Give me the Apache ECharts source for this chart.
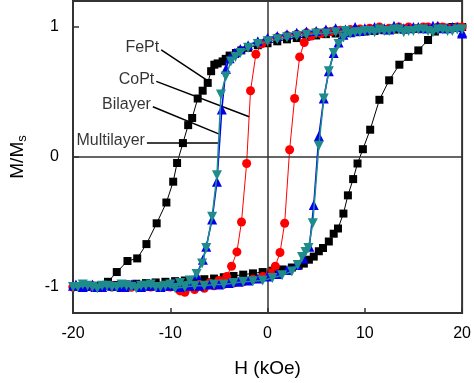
<!DOCTYPE html>
<html>
<head>
<meta charset="utf-8">
<script src="https://cdn.jsdelivr.net/npm/echarts@6/dist/echarts.min.js"></script>
<style>html,body{margin:0;padding:0;background:#fff}#c{width:474px;height:383px}</style>
</head>
<body>
<div id="c"></div>
<script>
// ---- Data (H in kOe, M/Ms) ----
const xTicks = [-20, -10, 0, 10, 20];
const yTicks = [-1, 0, 1];
const seriesNames = ['FePt', 'CoPt', 'Bilayer', 'Multilayer'];

const fePtDown = [[20,1.00],[19,1.00],[18,0.995],[17,0.99],[16,0.99],[15,0.985],[14,0.98],[13,0.98],[12,0.975],[11,0.97],[10,0.965],[9,0.96],[8,0.955],[7,0.95],[6,0.945],[5,0.935],[4,0.925],[3,0.915],[2,0.905],[1,0.89],[0,0.875],[-1,0.86],[-2,0.84],[-2.7,0.82],[-3.25,0.80],[-3.9,0.78],[-4.3,0.755],[-4.62,0.735],[-5.13,0.72],[-5.47,0.71],[-5.8,0.66],[-6.15,0.57],[-6.67,0.51],[-7.18,0.45],[-7.75,0.30],[-8.16,0.245],[-8.7,0.107],[-9.3,-0.046],[-9.7,-0.19],[-10.4,-0.35],[-11.4,-0.51],[-12.45,-0.67],[-13.4,-0.78],[-14.4,-0.80],[-15.5,-0.885],[-16.4,-0.96],[-17.4,-0.99],[-18.4,-1.0],[-19.5,-1.0]];
const fePtUp = [[-19.5,-1.0],[-18.5,-1.0],[-17.5,-0.995],[-16.5,-0.99],[-15.5,-0.985],[-14.5,-0.98],[-13.5,-0.975],[-12.5,-0.97],[-11.5,-0.965],[-10.5,-0.96],[-9.5,-0.955],[-8.5,-0.95],[-7.5,-0.945],[-6.5,-0.94],[-5.5,-0.935],[-4.5,-0.925],[-3.5,-0.915],[-2.5,-0.905],[-1.5,-0.895],[-0.5,-0.885],[0.5,-0.875],[1.5,-0.865],[2.5,-0.85],[3.2,-0.835],[3.73,-0.82],[4.25,-0.79],[4.75,-0.766],[5.27,-0.725],[5.7,-0.70],[6.3,-0.65],[6.8,-0.59],[7.24,-0.55],[7.8,-0.435],[8.26,-0.295],[8.8,-0.17],[9.25,-0.05],[9.8,0.06],[10.55,0.21],[11.5,0.44],[12.5,0.59],[13.55,0.71],[14.5,0.77],[15.5,0.82],[16.5,0.90],[17.2,0.965],[18,0.985],[19,0.995],[20,1.0]];

const coPtDown = [[20,1.0],[19,0.99],[18,1.0],[17,0.99],[16,1.0],[15,0.99],[14,0.985],[13,0.99],[12,0.98],[11,0.985],[10,0.975],[9,0.98],[8,0.97],[7,0.975],[6,0.965],[5,0.96],[4,0.955],[3,0.945],[2,0.935],[1,0.92],[0,0.9],[-0.6,0.87],[-1.2,0.79],[-1.75,0.51],[-2.15,-0.05],[-2.68,-0.50],[-3.15,-0.73],[-3.7,-0.84],[-4.2,-0.92],[-5,-0.95],[-6,-0.97],[-7,-0.98],[-8,-0.99],[-9,-1.0],[-10,-0.99],[-11,-1.0],[-12,-1.0],[-13,-0.99],[-14,-1.0],[-15,-1.0],[-16,-0.99],[-17,-1.0],[-18,-1.0],[-19,-0.99],[-20,-1.0]];
const coPtUp = [[-20,-1.0],[-19,-1.0],[-18,-0.99],[-17,-1.0],[-16,-1.0],[-15,-0.99],[-14,-1.0],[-13,-1.0],[-12,-0.99],[-11,-1.0],[-10,-1.0],[-9,-1.03],[-8.5,-1.04],[-7.5,-1.02],[-6.5,-1.01],[-5.5,-0.99],[-4.5,-0.98],[-3.5,-0.97],[-2.5,-0.96],[-1.5,-0.94],[-0.5,-0.92],[0.3,-0.89],[0.8,-0.84],[1.28,-0.735],[1.76,-0.51],[2.27,0.056],[2.78,0.45],[3.3,0.77],[3.77,0.88],[4.5,0.93],[5.5,0.95],[6.5,0.965],[7.5,0.975],[8.5,0.98],[9.5,0.985],[10.5,0.99],[11.5,1.0],[12.5,0.99],[13.5,1.0],[14.5,1.0],[15.5,0.99],[16.5,1.0],[17.5,1.0],[18.5,0.99],[19.5,1.0]];

const bilayerDown = [[20,0.96],[19,1.0],[18,0.99],[17,1.01],[16,0.99],[15,1.0],[14,0.99],[13,1.01],[12,0.99],[11,1.0],[10,0.99],[9,1.0],[8,0.98],[7,0.99],[6,0.98],[5,0.97],[4,0.965],[3,0.955],[2,0.945],[1,0.93],[0,0.915],[-1,0.89],[-2,0.86],[-2.8,0.83],[-3.4,0.80],[-3.9,0.76],[-4.28,0.677],[-4.7,0.366],[-5.2,-0.19],[-5.7,-0.48],[-6.3,-0.69],[-6.65,-0.79],[-7.3,-0.905],[-8,-0.95],[-8.8,-0.98],[-9.7,-0.97],[-10.7,-0.99],[-11.7,-0.98],[-12.7,-0.99],[-13.7,-0.98],[-14.7,-1.0],[-15.7,-0.99],[-16.7,-0.98],[-17.7,-1.0],[-18.7,-0.99],[-19.7,-0.98]];
const bilayerUp = [[-20,-0.99],[-19,-1.0],[-18,-0.98],[-17,-1.0],[-16,-0.99],[-15,-1.0],[-14,-0.98],[-13,-1.0],[-12,-0.99],[-11,-1.0],[-10,-0.99],[-9,-1.0],[-8,-0.99],[-7,-0.99],[-6,-0.98],[-5,-0.98],[-4,-0.97],[-3,-0.96],[-2,-0.95],[-1,-0.935],[0,-0.92],[1,-0.9],[2,-0.87],[3,-0.83],[3.7,-0.78],[4.3,-0.69],[4.75,-0.37],[5.27,0.16],[5.78,0.45],[6.3,0.66],[6.8,0.80],[7.3,0.88],[7.8,0.94],[8.5,0.96],[9.5,0.97],[10.5,0.98],[11.5,0.99],[12.5,0.98],[13.5,1.0],[14.5,0.99],[15.5,1.0],[16.5,0.99],[17.5,1.01],[18.5,0.99],[19.5,1.0],[20,0.95]];

const multiDown = [[20,0.98],[19,0.97],[18,0.98],[17,0.96],[16,0.98],[15,0.97],[14,0.96],[13,0.98],[12,0.97],[11,0.96],[10,0.97],[9,0.96],[8,0.97],[7,0.96],[6,0.95],[5,0.95],[4,0.94],[3,0.93],[2,0.92],[1,0.905],[0,0.89],[-1,0.87],[-2,0.84],[-2.8,0.80],[-3.3,0.77],[-3.77,0.735],[-4.3,0.62],[-4.79,0.48],[-5.2,-0.14],[-5.7,-0.46],[-6.3,-0.70],[-6.73,-0.82],[-7.3,-0.9],[-8,-0.95],[-9,-0.97],[-10,-0.98],[-11,-1.0],[-12,-0.98],[-13,-0.99],[-14,-1.0],[-15,-0.98],[-16,-1.0],[-17,-0.99],[-18,-1.0],[-19,-0.98],[-20,-1.0]];
const multiUp = [[-19.5,-1.0],[-18.5,-0.99],[-17.5,-1.01],[-16.5,-0.99],[-15.5,-1.0],[-14.5,-0.99],[-13.5,-1.01],[-12.5,-0.99],[-11.5,-1.0],[-10.5,-0.99],[-9.5,-1.01],[-8.5,-1.0],[-7.5,-0.99],[-6.5,-0.99],[-5.5,-0.98],[-4.5,-0.98],[-3.5,-0.97],[-2.5,-0.96],[-1.5,-0.955],[-0.5,-0.95],[0.5,-0.93],[1.5,-0.91],[2.5,-0.88],[3.1,-0.83],[3.55,-0.77],[3.9,-0.73],[4.2,-0.70],[4.65,-0.51],[5.27,0.086],[5.78,0.45],[6.3,0.66],[6.8,0.80],[7.3,0.87],[7.8,0.92],[8.5,0.95],[9.5,0.96],[10.5,0.97],[11.5,0.98],[12.5,0.97],[13.5,0.98],[14.5,0.97],[15.5,0.98],[16.5,0.97],[17.5,0.98],[18.5,0.97],[19.5,0.98]];

// annotation arrows (data coordinates)
const arrowStart = [[-10.93,0.824],[-11.44,0.582],[-11.79,0.387],[-12.4,0.112]];
const arrowEnd   = [[-6.32,0.595],[-1.89,0.31],[-4.96,0.176],[-4.96,0.112]];

const FONT = 'Arial, "Liberation Sans", sans-serif';
const styles = [
  {color:'#000000', symbol:'rect', size:8, rotate:0, lw:1},
  {color:'#ff0000', symbol:'circle', size:9, rotate:0, lw:1},
  {color:'#0000ee', symbol:'triangle', size:10, rotate:0, lw:1.5},
  {color:'#1f8c8c', symbol:'triangle', size:10, rotate:180, lw:1.5}
];
const loops = [fePtDown.concat(fePtUp), coPtDown.concat(coPtUp), bilayerDown.concat(bilayerUp), multiDown.concat(multiUp)];

const dataSeries = loops.map((d, i) => ({
  name: seriesNames[i], type: 'line', data: d, z: 3 + i,
  symbol: styles[i].symbol, symbolSize: styles[i].size, symbolRotate: styles[i].rotate,
  showSymbol: true, showAllSymbol: true,
  itemStyle: {color: styles[i].color},
  lineStyle: {color: styles[i].color, width: styles[i].lw},
  animation: false
}));

const chart = echarts.init(document.getElementById('c'));
chart.setOption({
  animation: false,
  grid: {left: 73, right: 10, top: 1, bottom: 67, show: true, borderColor: '#333', borderWidth: 2, backgroundColor: 'transparent'},
  xAxis: {
    type: 'value', min: -20, max: 20, interval: 10,
    axisLine: {show: false, onZero: false}, splitLine: {show: false},
    axisTick: {inside: true, length: 5, lineStyle: {color: '#333', width: 1.5}},
    axisLabel: {color: '#000', fontSize: 16, margin: 13, fontFamily: FONT, customValues: xTicks},
    name: 'H (kOe)', nameLocation: 'middle', nameGap: 46,
    nameTextStyle: {color: '#000', fontSize: 19, fontFamily: FONT}
  },
  yAxis: {
    type: 'value', min: -1.2, max: 1.2,
    axisLine: {show: false, onZero: false}, splitLine: {show: false},
    axisTick: {inside: true, length: 6, customValues: yTicks, lineStyle: {color: '#333', width: 1.5}},
    axisLabel: {color: '#000', fontSize: 16, margin: 14, fontFamily: FONT, customValues: yTicks},
    name: 'M/M{s|s}', nameLocation: 'middle', nameGap: 44, nameRotate: 90,
    nameTextStyle: {color: '#000', fontSize: 19, fontFamily: FONT,
      rich: {s: {fontSize: 13, fontFamily: FONT, color: '#000', padding: [10, 0, 0, 0]}}}
  },
  series: [
    {type: 'scatter', data: [], z: 1, silent: true,
      markLine: {silent: true, symbol: 'none', label: {show: false},
        lineStyle: {color: '#333', width: 1.5, type: 'solid'},
        data: [{xAxis: 0}, {yAxis: 0}], animation: false}},
    ...dataSeries,
    {type: 'scatter', z: 10, silent: true, symbolSize: 0,
      data: arrowStart.map((p, i) => ({value: p, name: seriesNames[i]})),
      label: {show: true, position: 'left', distance: 2, formatter: '{b}', color: '#000', fontSize: 16, fontFamily: FONT, offset: [0, -2]},
      markLine: {silent: true, symbol: ['none', 'arrow'], symbolSize: [0, 10], label: {show: false},
        lineStyle: {color: '#000', width: 1.5, type: 'solid'},
        data: arrowStart.map((s, i) => [{coord: s}, {coord: arrowEnd[i]}]), animation: false}}
  ]
});
</script>
</body>
</html>
